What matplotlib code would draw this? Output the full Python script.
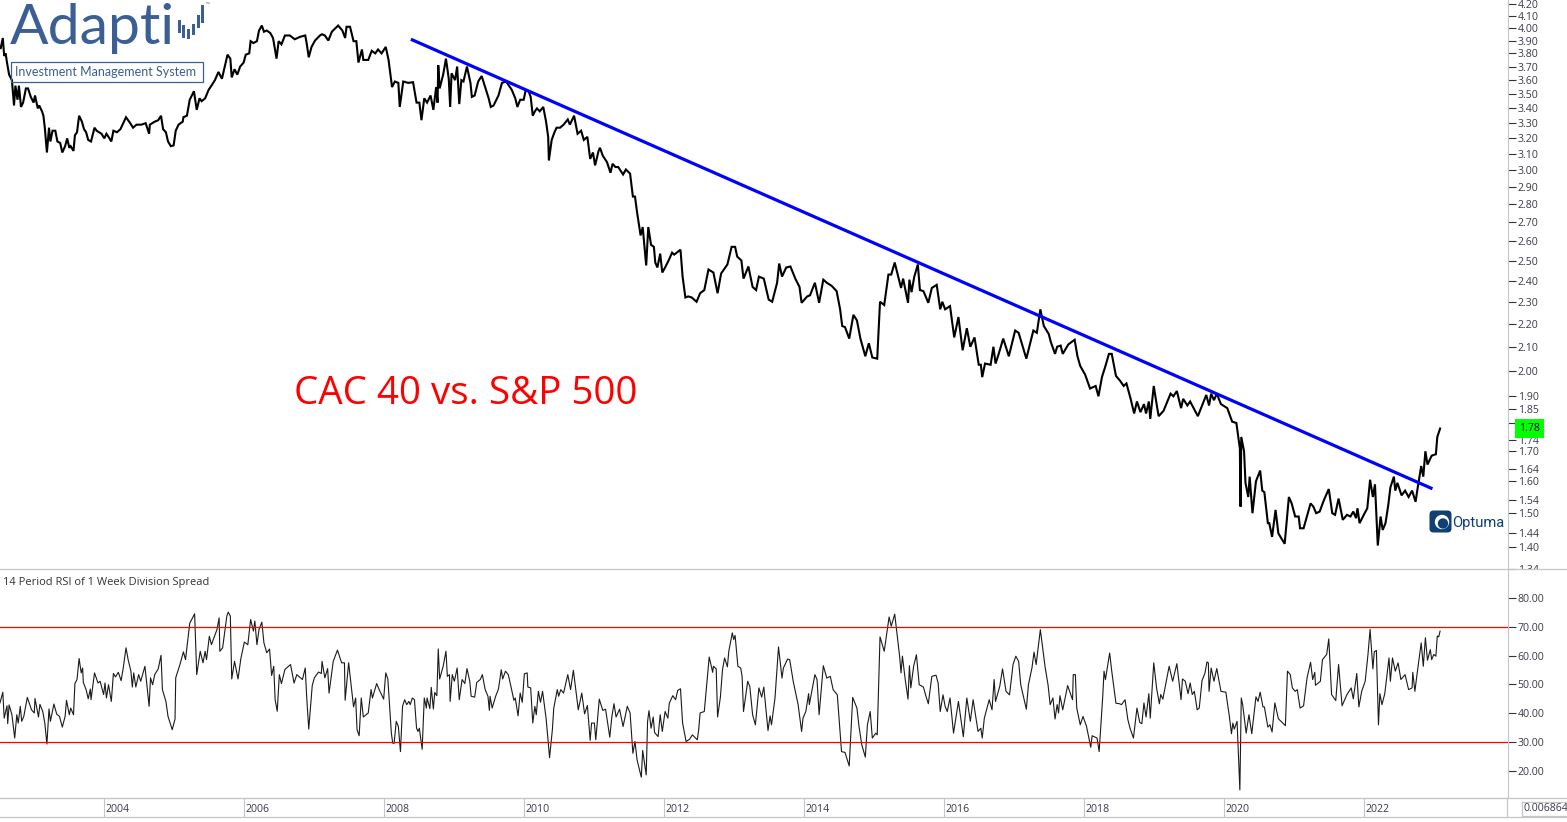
import matplotlib
matplotlib.use('Agg')
import matplotlib.pyplot as plt
from matplotlib.lines import Line2D
from matplotlib.patches import Rectangle, FancyBboxPatch, Circle
from matplotlib.transforms import ScaledTranslation, Bbox

plt.rcParams['font.family'] = ['Open Sans', 'DejaVu Sans']

# weekly spread (decimal year, ratio)
price_dates = [
    2002.52, 2002.55, 2002.57, 2002.59, 2002.61, 2002.64, 2002.68, 2002.71, 2002.73, 2002.76, 2002.78, 2002.81,
    2002.84, 2002.88, 2002.91, 2002.95, 2002.99, 2003.01, 2003.05, 2003.07, 2003.11, 2003.13, 2003.15, 2003.18,
    2003.21, 2003.23, 2003.26, 2003.30, 2003.33, 2003.37, 2003.40, 2003.44, 2003.47, 2003.50, 2003.52, 2003.56,
    2003.58, 2003.61, 2003.64, 2003.68, 2003.71, 2003.74, 2003.77, 2003.81, 2003.86, 2003.89, 2003.96, 2004.00,
    2004.03, 2004.06, 2004.10, 2004.13, 2004.18, 2004.23, 2004.31, 2004.37, 2004.41, 2004.46, 2004.53, 2004.59,
    2004.64, 2004.65, 2004.72, 2004.77, 2004.81, 2004.84, 2004.88, 2004.91, 2004.95, 2004.99, 2005.02, 2005.06,
    2005.12, 2005.13, 2005.18, 2005.22, 2005.28, 2005.32, 2005.36, 2005.39, 2005.44, 2005.49, 2005.53, 2005.58,
    2005.63, 2005.68, 2005.72, 2005.76, 2005.80, 2005.82, 2005.86, 2005.90, 2005.94, 2005.99, 2006.02, 2006.07,
    2006.09, 2006.13, 2006.18, 2006.21, 2006.25, 2006.28, 2006.32, 2006.37, 2006.41, 2006.46, 2006.49, 2006.53,
    2006.58, 2006.65, 2006.72, 2006.80, 2006.87, 2006.89, 2006.92, 2006.96, 2007.01, 2007.08, 2007.11, 2007.15,
    2007.20, 2007.25, 2007.34, 2007.40, 2007.44, 2007.46, 2007.51, 2007.56, 2007.60, 2007.63, 2007.68, 2007.70,
    2007.77, 2007.82, 2007.87, 2007.91, 2007.96, 2008.02, 2008.06, 2008.11, 2008.15, 2008.20, 2008.22, 2008.27,
    2008.34, 2008.41, 2008.46, 2008.50, 2008.53, 2008.57, 2008.61, 2008.66, 2008.70, 2008.74,
    2008.76, 2008.77, 2008.79, 2008.84, 2008.88, 2008.92, 2008.94, 2008.96, 2009.01, 2009.04, 2009.07, 2009.10,
    2009.13, 2009.18, 2009.23, 2009.25, 2009.29, 2009.34, 2009.39, 2009.44, 2009.49, 2009.52, 2009.56, 2009.63,
    2009.68, 2009.74, 2009.82, 2009.87, 2009.90, 2009.94, 2009.99, 2010.02, 2010.06, 2010.09, 2010.12, 2010.15,
    2010.18, 2010.22, 2010.27, 2010.31, 2010.34, 2010.35, 2010.39, 2010.43, 2010.46, 2010.51, 2010.56, 2010.62,
    2010.65, 2010.71, 2010.76, 2010.81, 2010.85, 2010.90, 2010.94, 2010.98, 2011.01, 2011.06, 2011.08, 2011.12,
    2011.18, 2011.23, 2011.26, 2011.30, 2011.34, 2011.41, 2011.45, 2011.51, 2011.55, 2011.58, 2011.61, 2011.66,
    2011.69, 2011.74, 2011.77, 2011.81, 2011.85, 2011.87, 2011.90, 2011.94, 2011.97, 2012.01, 2012.06, 2012.11,
    2012.14, 2012.23, 2012.26, 2012.30, 2012.34, 2012.39, 2012.46, 2012.51, 2012.57, 2012.63, 2012.70, 2012.76,
    2012.81, 2012.87, 2012.90, 2012.96, 2013.01, 2013.04, 2013.10, 2013.13, 2013.20, 2013.26, 2013.31, 2013.35,
    2013.42, 2013.49, 2013.54, 2013.61, 2013.64, 2013.68, 2013.74, 2013.80, 2013.87, 2013.93, 2013.96, 2014.04,
    2014.08, 2014.15, 2014.21, 2014.27, 2014.32, 2014.39, 2014.46, 2014.51, 2014.54, 2014.58, 2014.64, 2014.70,
    2014.75, 2014.80,
    2014.87, 2014.92, 2014.97, 2015.04, 2015.08, 2015.14, 2015.20, 2015.24, 2015.29, 2015.35, 2015.38, 2015.41,
    2015.48, 2015.50, 2015.53, 2015.57, 2015.62, 2015.65, 2015.70, 2015.77, 2015.82, 2015.89, 2015.94, 2015.97,
    2016.01, 2016.08, 2016.14, 2016.20, 2016.26, 2016.32, 2016.37, 2016.43, 2016.49, 2016.52, 2016.54, 2016.58,
    2016.66, 2016.70, 2016.73, 2016.77, 2016.84, 2016.92, 2017.01, 2017.06, 2017.17, 2017.27, 2017.32, 2017.37,
    2017.42, 2017.49, 2017.52, 2017.58, 2017.61, 2017.66, 2017.69, 2017.77, 2017.86, 2017.90, 2017.94, 2018.01,
    2018.08, 2018.16, 2018.20, 2018.25, 2018.30, 2018.35, 2018.39, 2018.45, 2018.51, 2018.56, 2018.60, 2018.66,
    2018.71, 2018.75, 2018.80, 2018.85, 2018.88, 2018.92, 2018.94, 2018.99, 2019.04, 2019.06, 2019.13, 2019.23,
    2019.27, 2019.32, 2019.38, 2019.41, 2019.47, 2019.51, 2019.56, 2019.62, 2019.68, 2019.74, 2019.78, 2019.81,
    2019.85, 2019.89, 2019.95, 2020.04, 2020.11, 2020.17, 2020.22,
    2020.23, 2020.24, 2020.28, 2020.30, 2020.34, 2020.36, 2020.40, 2020.45, 2020.51, 2020.54, 2020.57, 2020.62,
    2020.64, 2020.68, 2020.73, 2020.77, 2020.86, 2020.92, 2020.96, 2021.01, 2021.06, 2021.08, 2021.13, 2021.23,
    2021.27, 2021.31, 2021.36, 2021.42, 2021.49, 2021.54, 2021.58, 2021.63, 2021.69, 2021.75, 2021.80, 2021.84,
    2021.88, 2021.90, 2021.93, 2021.99, 2022.04, 2022.08, 2022.12, 2022.15, 2022.19, 2022.23, 2022.26, 2022.30,
    2022.34, 2022.37, 2022.42, 2022.44, 2022.47, 2022.53, 2022.58, 2022.63, 2022.68, 2022.73, 2022.75, 2022.81,
    2022.84, 2022.87, 2022.90, 2022.96, 2023.02, 2023.04, 2023.08,
]
price_values = [
    3.84, 3.92, 3.78, 3.80, 3.73, 3.64, 3.60, 3.42, 3.56, 3.46, 3.56, 3.41,
    3.44, 3.54, 3.54, 3.48, 3.44, 3.49, 3.40, 3.42, 3.38, 3.35, 3.27, 3.11,
    3.27, 3.18, 3.25, 3.25, 3.18, 3.17, 3.11, 3.15, 3.20, 3.14, 3.15, 3.12,
    3.22, 3.24, 3.35, 3.31, 3.26, 3.24, 3.19, 3.18, 3.27, 3.25, 3.23, 3.20,
    3.23, 3.21, 3.18, 3.25, 3.24, 3.26, 3.34, 3.30, 3.27, 3.29, 3.29, 3.30,
    3.23, 3.29, 3.31, 3.32, 3.35, 3.26, 3.24, 3.18, 3.15, 3.155, 3.25, 3.29,
    3.31, 3.34, 3.35, 3.46, 3.52, 3.39, 3.47, 3.45, 3.47, 3.53, 3.56, 3.60,
    3.66, 3.61, 3.70, 3.79, 3.76, 3.62, 3.68, 3.64, 3.70, 3.73, 3.79, 3.80,
    3.895, 3.88, 3.895, 3.98, 4.02, 3.97, 3.98, 3.96, 3.92, 3.76, 3.895, 3.87,
    3.94, 3.94, 3.91, 3.93, 3.94, 3.88, 3.77, 3.85, 3.90, 3.94, 3.95, 3.94,
    3.90, 3.97, 4.02, 3.98, 3.92, 4.01, 4.01, 3.895, 3.895, 3.73, 3.83, 3.75,
    3.75, 3.82, 3.80, 3.83, 3.80, 3.85, 3.75, 3.55, 3.59, 3.58, 3.41, 3.59,
    3.58, 3.585, 3.44, 3.44, 3.32, 3.47, 3.44, 3.49, 3.39, 3.55,
    3.44, 3.71, 3.54, 3.64, 3.76, 3.61, 3.41, 3.65, 3.60, 3.70, 3.43, 3.60,
    3.59, 3.70, 3.58, 3.48, 3.49, 3.59, 3.63, 3.55, 3.47, 3.41, 3.42, 3.49,
    3.58, 3.59, 3.53, 3.47, 3.41, 3.46, 3.46, 3.53, 3.52, 3.48, 3.35, 3.38,
    3.40, 3.38, 3.41, 3.31, 3.21, 3.06, 3.19, 3.24, 3.27, 3.27, 3.29, 3.325,
    3.29, 3.35, 3.23, 3.25, 3.19, 3.21, 3.07, 3.11, 3.03, 3.12, 3.14, 3.09,
    3.05, 2.985, 3.04, 3.02, 3.02, 2.975, 3.005, 2.98, 2.845, 2.845, 2.755, 2.63,
    2.675, 2.475, 2.675, 2.58, 2.57, 2.49, 2.465, 2.535, 2.44, 2.465, 2.50, 2.54,
    2.53, 2.555, 2.42, 2.32, 2.325, 2.32, 2.30, 2.34, 2.355, 2.455, 2.44, 2.34,
    2.435, 2.465, 2.48, 2.57, 2.57, 2.52, 2.50, 2.41, 2.47, 2.37, 2.355, 2.42,
    2.41, 2.31, 2.30, 2.39, 2.485, 2.42, 2.465, 2.47, 2.41, 2.37, 2.295, 2.325,
    2.33, 2.39, 2.295, 2.405, 2.39, 2.375, 2.35, 2.265, 2.19, 2.185, 2.135, 2.24,
    2.215, 2.135,
    2.06, 2.115, 2.055, 2.05, 2.30, 2.285, 2.43, 2.43, 2.49, 2.405, 2.365, 2.41,
    2.295, 2.405, 2.345, 2.42, 2.48, 2.355, 2.35, 2.295, 2.365, 2.38, 2.265, 2.30,
    2.265, 2.28, 2.14, 2.23, 2.085, 2.18, 2.10, 2.14, 2.025, 2.025, 1.975, 2.03,
    2.025, 2.10, 2.03, 2.065, 2.135, 2.06, 2.17, 2.16, 2.05, 2.17, 2.16, 2.265,
    2.19, 2.155, 2.12, 2.07, 2.10, 2.105, 2.07, 2.11, 2.13, 2.06, 2.02, 1.985,
    1.93, 1.94, 1.90, 1.975, 2.02, 2.07, 2.07, 1.98, 1.96, 1.94, 1.95, 1.89,
    1.835, 1.88, 1.84, 1.87, 1.835, 1.88, 1.815, 1.94, 1.855, 1.825, 1.845, 1.91,
    1.90, 1.92, 1.855, 1.89, 1.865, 1.88, 1.855, 1.825, 1.865, 1.905, 1.865, 1.91,
    1.885, 1.91, 1.87, 1.855, 1.805, 1.80, 1.71,
    1.52, 1.75, 1.70, 1.595, 1.55, 1.615, 1.50, 1.60, 1.635, 1.57, 1.565, 1.47,
    1.47, 1.43, 1.51, 1.44, 1.41, 1.55, 1.53, 1.49, 1.49, 1.455, 1.455, 1.53,
    1.52, 1.50, 1.505, 1.54, 1.575, 1.50, 1.495, 1.545, 1.48, 1.495, 1.49, 1.505,
    1.485, 1.515, 1.47, 1.495, 1.515, 1.605, 1.55, 1.59, 1.405, 1.49, 1.45, 1.47,
    1.525, 1.58, 1.615, 1.57, 1.595, 1.555, 1.57, 1.55, 1.57, 1.535, 1.565, 1.65,
    1.615, 1.70, 1.655, 1.685, 1.69, 1.75, 1.78,
]

# 14 period RSI of the spread
rsi_dates = [
    2002.51, 2002.55, 2002.57, 2002.61, 2002.62, 2002.64, 2002.68, 2002.72, 2002.75, 2002.77, 2002.80, 2002.82,
    2002.85, 2002.90, 2002.96, 2003.00, 2003.01, 2003.06, 2003.08, 2003.12, 2003.15, 2003.18, 2003.21, 2003.23,
    2003.28, 2003.32, 2003.36, 2003.40, 2003.44, 2003.46, 2003.50, 2003.52, 2003.56, 2003.58, 2003.61, 2003.64,
    2003.67, 2003.69, 2003.70, 2003.74, 2003.77, 2003.80, 2003.81, 2003.86, 2003.91, 2003.94, 2003.99, 2004.01,
    2004.03, 2004.06, 2004.10, 2004.13, 2004.16, 2004.20, 2004.24, 2004.27, 2004.31, 2004.34, 2004.38, 2004.40,
    2004.42, 2004.45, 2004.49, 2004.52, 2004.58, 2004.64, 2004.66, 2004.69, 2004.72, 2004.77, 2004.81, 2004.83,
    2004.88, 2004.91, 2004.97, 2005.01, 2005.02, 2005.08, 2005.13, 2005.16, 2005.22, 2005.29, 2005.32, 2005.37,
    2005.41, 2005.44, 2005.46, 2005.50, 2005.53, 2005.61, 2005.64, 2005.65, 2005.69, 2005.75, 2005.77, 2005.80,
    2005.82, 2005.86, 2005.91, 2005.95, 2006.00, 2006.05, 2006.09, 2006.13, 2006.15, 2006.18, 2006.21, 2006.25,
    2006.28, 2006.32, 2006.36, 2006.39, 2006.42, 2006.44, 2006.47, 2006.50, 2006.53, 2006.58, 2006.66, 2006.71,
    2006.75, 2006.83, 2006.87, 2006.89, 2006.92, 2006.97, 2007.00, 2007.06, 2007.10, 2007.11, 2007.15, 2007.19,
    2007.21, 2007.27, 2007.33, 2007.39, 2007.43, 2007.44, 2007.49, 2007.56, 2007.59, 2007.61, 2007.64, 2007.67,
    2007.70, 2007.77, 2007.81, 2007.83, 2007.89, 2007.93,
    2007.99, 2008.02, 2008.05, 2008.10, 2008.12, 2008.14, 2008.17, 2008.20, 2008.23, 2008.26, 2008.29, 2008.32,
    2008.35, 2008.37, 2008.40, 2008.43, 2008.46, 2008.48, 2008.50, 2008.54, 2008.57, 2008.60, 2008.61, 2008.65,
    2008.67, 2008.70, 2008.72, 2008.75, 2008.77, 2008.79, 2008.84, 2008.88, 2008.90, 2008.93, 2008.94, 2008.97,
    2009.00, 2009.04, 2009.07, 2009.11, 2009.15, 2009.18, 2009.22, 2009.24, 2009.29, 2009.32, 2009.37, 2009.40,
    2009.44, 2009.48, 2009.50, 2009.51, 2009.54, 2009.59, 2009.63, 2009.67, 2009.69, 2009.73, 2009.77, 2009.81,
    2009.85, 2009.87, 2009.91, 2009.94, 2009.97, 2010.00, 2010.04, 2010.05, 2010.09, 2010.12, 2010.15, 2010.17,
    2010.20, 2010.23, 2010.26, 2010.31, 2010.36, 2010.40, 2010.42, 2010.47, 2010.49, 2010.52, 2010.56, 2010.62,
    2010.66, 2010.70, 2010.74, 2010.77, 2010.82, 2010.86, 2010.90, 2010.94, 2010.96, 2011.00, 2011.02, 2011.07,
    2011.12, 2011.16, 2011.22, 2011.25, 2011.28, 2011.31, 2011.36, 2011.41, 2011.47, 2011.51, 2011.55, 2011.58,
    2011.61, 2011.67, 2011.69, 2011.74, 2011.76, 2011.78, 2011.81, 2011.84, 2011.86, 2011.91, 2011.94, 2011.97,
    2012.01, 2012.05, 2012.07, 2012.12, 2012.16, 2012.19, 2012.23, 2012.26, 2012.31, 2012.36, 2012.40, 2012.47,
    2012.49, 2012.51, 2012.57, 2012.64, 2012.69, 2012.70, 2012.74, 2012.76, 2012.80, 2012.83, 2012.86, 2012.90,
    2012.92, 2012.97, 2012.99, 2013.01, 2013.05, 2013.09, 2013.11, 2013.13, 2013.19,
    2013.22, 2013.26, 2013.30, 2013.35, 2013.39, 2013.42, 2013.48, 2013.51, 2013.53, 2013.58, 2013.63, 2013.68,
    2013.70, 2013.76, 2013.79, 2013.84, 2013.91, 2013.96, 2013.98, 2014.02, 2014.06, 2014.07, 2014.15, 2014.18,
    2014.21, 2014.27, 2014.32, 2014.37, 2014.41, 2014.47, 2014.53, 2014.58, 2014.64, 2014.69, 2014.75, 2014.78,
    2014.82, 2014.87, 2014.90, 2014.94, 2014.97, 2015.02, 2015.04, 2015.08, 2015.14, 2015.21, 2015.24, 2015.29,
    2015.36, 2015.38, 2015.40, 2015.44, 2015.48, 2015.50, 2015.52, 2015.56, 2015.60, 2015.64, 2015.70, 2015.73,
    2015.77, 2015.82, 2015.88, 2015.91, 2015.94, 2015.98, 2016.01, 2016.04, 2016.08, 2016.13, 2016.20, 2016.27,
    2016.32, 2016.37, 2016.41, 2016.48, 2016.52, 2016.54, 2016.57, 2016.64, 2016.68, 2016.71, 2016.73, 2016.79,
    2016.83, 2016.88, 2016.93, 2016.98, 2017.02, 2017.06, 2017.09, 2017.17, 2017.20, 2017.25, 2017.28, 2017.31,
    2017.37, 2017.44, 2017.48, 2017.51, 2017.55, 2017.58, 2017.61, 2017.63, 2017.65, 2017.69, 2017.76, 2017.83,
    2017.84, 2017.87, 2017.89, 2017.94, 2017.98, 2018.03, 2018.09, 2018.11, 2018.18, 2018.21, 2018.26, 2018.28,
    2018.30, 2018.36, 2018.39, 2018.45, 2018.50,
    2018.53, 2018.58, 2018.62, 2018.65, 2018.70, 2018.75, 2018.79, 2018.82, 2018.85, 2018.88, 2018.92, 2018.94,
    2018.99, 2019.03, 2019.07, 2019.09, 2019.12, 2019.21, 2019.26, 2019.32, 2019.38, 2019.40, 2019.44, 2019.48,
    2019.51, 2019.54, 2019.57, 2019.61, 2019.64, 2019.68, 2019.72, 2019.75, 2019.77, 2019.78, 2019.81, 2019.85,
    2019.89, 2019.95, 2020.02, 2020.07, 2020.10, 2020.12, 2020.14, 2020.18, 2020.22, 2020.24, 2020.26, 2020.31,
    2020.35, 2020.39, 2020.45, 2020.48, 2020.51, 2020.55, 2020.57, 2020.62, 2020.65, 2020.68, 2020.72, 2020.77,
    2020.87, 2020.90, 2020.94, 2020.97, 2021.01, 2021.04, 2021.08, 2021.13, 2021.18, 2021.23, 2021.26, 2021.29,
    2021.30, 2021.37, 2021.40, 2021.46, 2021.49, 2021.53, 2021.59, 2021.63, 2021.68, 2021.75, 2021.81, 2021.84,
    2021.89, 2021.92, 2021.96, 2022.01, 2022.05, 2022.08, 2022.12, 2022.14, 2022.17, 2022.20, 2022.22, 2022.25,
    2022.29, 2022.35, 2022.37, 2022.40, 2022.44, 2022.48, 2022.52, 2022.58, 2022.63, 2022.68, 2022.69, 2022.72,
    2022.75, 2022.81, 2022.84, 2022.87, 2022.90, 2022.94, 2022.96, 2022.99, 2023.02, 2023.04, 2023.06, 2023.08,
]
rsi_values = [
    43.6, 47.3, 38.3, 42.6, 36.4, 42.9, 39.5, 31.4, 39.5, 36.6, 42.4, 37.2,
    38.9, 45.5, 41.2, 40.1, 45.1, 38.7, 43.1, 40.7, 36.6, 29.3, 41.5, 37.2,
    43.2, 39.7, 38.9, 35.2, 38.9, 44.5, 39.5, 41.8, 39.5, 50.3, 51.7, 59.0,
    54.0, 55.7, 50.7, 48.2, 45.0, 48.4, 44.7, 54.0, 50.5, 51.1, 46.5, 50.5,
    45.3, 49.9, 44.1, 53.8, 52.6, 54.2, 51.3, 55.7, 62.7, 58.6, 54.6, 49.1,
    54.0, 49.1, 53.4, 51.1, 56.3, 42.4, 52.3, 49.9, 53.4, 55.4, 60.1, 48.2,
    44.1, 38.9, 34.3, 38.0, 52.3, 56.9, 61.3, 58.6, 71.2, 74.5, 53.4, 61.5,
    57.5, 61.5, 58.6, 66.7, 63.8, 69.1, 73.1, 61.5, 62.7, 73.7, 75.1, 73.7,
    51.9, 58.0, 51.9, 58.9, 64.7, 63.8, 72.5, 68.5, 72.0, 63.8, 69.1, 71.6,
    64.4, 61.0, 62.3, 53.1, 56.3, 44.7, 40.7, 53.4, 50.3, 55.2, 56.9, 50.5,
    53.4, 51.7, 55.7, 45.9, 34.5, 49.6, 52.3, 54.3, 53.8, 58.0, 52.3, 55.5,
    47.0, 58.0, 61.9, 57.5, 57.5, 44.5, 57.5, 42.2, 45.3, 34.3, 32.2, 45.3,
    38.7, 40.1, 48.2, 45.3, 50.3, 48.0,
    44.9, 54.0, 51.9, 33.1, 29.6, 29.6, 37.2, 35.4, 26.7, 42.4, 44.7, 43.0,
    44.1, 43.0, 45.3, 44.7, 34.8, 33.7, 34.8, 27.5, 45.3, 41.8, 45.3, 41.6,
    49.0, 41.5, 47.2, 46.1, 62.3, 51.9, 56.3, 61.5, 52.8, 53.4, 44.1, 53.4,
    51.1, 55.7, 44.7, 51.7, 50.3, 55.5, 51.1, 45.9, 45.6, 50.7, 51.7, 53.4,
    48.2, 45.9, 41.0, 45.9, 41.8, 45.9, 48.4, 55.1, 51.9, 54.6, 53.4, 49.1,
    44.5, 45.3, 39.1, 47.0, 43.8, 53.7, 54.0, 49.1, 48.8, 36.6, 42.4, 39.5,
    47.6, 43.8, 47.6, 38.3, 24.6, 34.3, 41.8, 48.2, 45.9, 48.2, 47.0, 53.4,
    48.2, 54.9, 47.0, 41.2, 47.0, 39.8, 42.7, 30.6, 36.6, 36.6, 30.8, 44.9,
    41.0, 41.4, 31.7, 38.9, 43.3, 38.7, 41.4, 35.4, 42.4, 40.1, 26.1, 30.2,
    23.8, 17.8, 27.1, 18.6, 37.2, 40.9, 34.8, 38.7, 33.3, 31.9, 39.5, 33.7,
    40.6, 38.3, 43.5, 46.1, 44.7, 47.9, 48.5, 36.6, 30.2, 31.0, 32.5, 30.8,
    34.3, 40.1, 40.6, 59.5, 54.2, 56.3, 55.4, 38.7, 45.6, 55.1, 59.2, 56.1,
    61.5, 67.9, 65.6, 67.0, 56.3, 55.7, 52.8, 40.6, 51.1,
    49.3, 39.5, 36.0, 48.8, 45.6, 49.1, 34.0, 39.1, 36.0, 45.3, 63.0, 52.2,
    55.7, 58.8, 58.6, 51.1, 43.0, 33.7, 38.3, 40.6, 46.8, 43.0, 53.4, 51.7,
    39.5, 56.5, 52.2, 52.8, 48.2, 46.4, 26.7, 26.4, 21.7, 45.5, 41.8, 35.4,
    29.0, 24.8, 36.0, 40.6, 31.4, 33.1, 32.5, 66.5, 61.5, 73.4, 70.2, 74.4,
    59.8, 54.0, 59.8, 51.7, 44.9, 56.5, 48.8, 56.3, 60.3, 49.9, 49.1, 46.4,
    43.3, 52.8, 53.2, 50.5, 40.6, 46.4, 42.4, 40.6, 45.3, 33.1, 44.1, 31.9,
    45.3, 37.2, 44.7, 33.7, 34.8, 31.4, 38.3, 44.7, 41.2, 51.7, 44.1, 49.3,
    55.4, 47.6, 46.4, 56.9, 59.8, 58.0, 49.9, 41.4, 49.9, 55.7, 61.2, 56.9,
    69.0, 55.7, 49.9, 43.0, 45.3, 38.0, 43.0, 40.1, 46.1, 41.2, 49.6, 44.7,
    53.4, 53.4, 41.8, 36.0, 38.9, 35.4, 28.2, 32.2, 31.4, 26.7, 45.3, 54.6,
    51.7, 60.9, 54.6, 43.5, 43.3,
    43.0, 44.7, 37.8, 34.9, 31.4, 41.8, 36.8, 36.4, 43.6, 38.7, 46.8, 38.3,
    57.5, 48.8, 43.3, 46.5, 44.9, 56.3, 51.1, 57.2, 44.7, 51.9, 51.1, 46.8,
    50.5, 46.5, 47.6, 41.2, 41.8, 51.4, 53.8, 57.8, 57.5, 47.6, 55.7, 51.1,
    55.5, 47.6, 47.3, 38.9, 32.9, 36.6, 34.5, 37.2, 13.4, 45.3, 43.0, 33.1,
    39.5, 32.9, 45.7, 44.1, 47.3, 42.2, 42.2, 35.2, 36.0, 33.5, 43.6, 38.1,
    35.7, 54.6, 53.4, 48.8, 47.6, 48.2, 41.8, 42.6, 52.3, 57.7, 51.7, 54.2,
    49.7, 51.1, 58.6, 60.4, 65.8, 46.5, 44.4, 56.9, 42.6, 46.5, 48.8, 45.0,
    53.8, 42.2, 47.6, 51.1, 60.4, 69.1, 55.4, 61.3, 61.8, 36.0, 46.8, 43.0,
    46.8, 59.2, 51.1, 59.2, 54.6, 57.5, 51.7, 53.4, 48.2, 48.8, 54.2, 47.6,
    53.4, 64.4, 56.3, 66.2, 58.4, 62.1, 58.6, 60.4, 59.8, 66.8, 66.5, 68.5,
]

# trendline end points
trend_dates = [2008.40, 2022.95]
trend_values = [3.905, 1.578]

price_ticks = [4.2, 4.1, 4.0, 3.9, 3.8, 3.7, 3.6, 3.5, 3.4, 3.3, 3.2, 3.1, 3.0, 2.9, 2.8, 2.7, 2.6, 2.5, 2.4,
               2.3, 2.2, 2.1, 2.0, 1.9, 1.85, 1.8, 1.74, 1.7, 1.64, 1.6, 1.54, 1.5, 1.44, 1.4, 1.34]
rsi_ticks = [20, 30, 40, 50, 60, 70, 80]
rsi_levels = [30, 70]
year_ticks = [2004, 2006, 2008, 2010, 2012, 2014, 2016, 2018, 2020, 2022]

W, H = 1567, 822
GREY = '#c6c6c6'
LABEL = '#3a3a48'
LOGO = '#3b5f94'
OPTUMA = '#0f3f75'

fig = plt.figure(figsize=(W / 100, H / 100), dpi=100, facecolor='white')

# main panel
ax = fig.add_axes([0, 1 - 569 / H, 1508 / W, 569 / H])
ax.set_yscale('log')
ax.plot(price_dates, price_values, color='black', lw=1.5, solid_joinstyle='miter')
ax.plot(trend_dates, trend_values, color='#0000ff', lw=2.3)
ax.set_xlim(2002.51, 2024.05)
ax.set_ylim(1.3406, 4.233)
ax.set_xticks([])
ax.yaxis.tick_right()
ax.set_yticks(price_ticks, labels=['' if t == 1.8 else f'{t:.2f}' for t in price_ticks])
ax.minorticks_off()
ax.tick_params(axis='y', length=6, width=0.8, color='#333333', labelsize=7.6, labelcolor=LABEL, pad=1)
for s in ['top', 'left', 'bottom']:
    ax.spines[s].set_visible(False)
ax.spines['right'].set_color(GREY)

# 1.34 gets cut by the panel edge, 4.20 by the top of the image
panel_box = Bbox.from_extents(1500, H - 569, W, H)
for lab in ax.get_yticklabels():
    lab.set_clip_box(panel_box)
    lab.set_clip_on(True)

ax.text(1.0073, 1.78, '1.78', transform=ax.get_yaxis_transform(), ha='left', va='center', fontsize=7.6, color='black',
        bbox=dict(facecolor='#00ff00', edgecolor='none', pad=3.2), zorder=5)

# RSI panel
ax2 = fig.add_axes([0, (H - 798) / H, 1508 / W, 228 / H])
ax2.plot(rsi_dates, rsi_values, color='#1a1a1a', lw=0.8)
for lv in rsi_levels:
    ax2.axhline(lv, color='#ff0000', lw=0.9)
ax2.set_xlim(2002.51, 2024.05)
ax2.set_ylim(10.6, 89.7)
ax2.yaxis.tick_right()
ax2.set_yticks(rsi_ticks, labels=[f'{t:.2f}' for t in rsi_ticks])
ax2.tick_params(axis='y', length=6, width=0.8, color='#333333', labelsize=7.6, labelcolor=LABEL, pad=1)
ax2.set_xticks(year_ticks, labels=[str(y) for y in year_ticks])
ax2.tick_params(axis='x', length=13.5, width=0.8, color=GREY, labelsize=7.6, labelcolor=LABEL, pad=-9)
shift = ScaledTranslation(0.01, 0, fig.dpi_scale_trans)
for lab in ax2.get_xticklabels():
    lab.set_ha('left')
    lab.set_transform(lab.get_transform() + shift)
for s in ['top', 'left']:
    ax2.spines[s].set_visible(False)
ax2.spines['right'].set_color(GREY)
ax2.spines['bottom'].set_color(GREY)
ax2.text(3 / 1508, 1 - 13 / 228, '14 Period RSI of 1 Week Division Spread', transform=ax2.transAxes,
         ha='left', va='center', fontsize=8.0, color='#333333')

# overlay in image pixels for the logos and the frame around the panels
over = fig.add_axes([0, 0, 1, 1], zorder=10)
over.set_xlim(0, W)
over.set_ylim(H, 0)
over.axis('off')
over.patch.set_alpha(0)

over.add_line(Line2D([0, W], [569, 569], color=GREY, lw=0.9))
over.add_line(Line2D([0, W], [798, 798], color=GREY, lw=0.9))
over.add_line(Line2D([0, W], [817, 817], color=GREY, lw=0.9))
over.add_line(Line2D([1506.5, 1506.5], [798, 817], color=GREY, lw=0.9))
over.add_line(Line2D([1521.5, 1567], [801.5, 801.5], color=GREY, lw=0.9))
over.add_line(Line2D([1521.5, 1567], [815.5, 815.5], color=GREY, lw=0.9))
over.add_line(Line2D([1521.5, 1521.5], [801.5, 815.5], color=GREY, lw=0.9))
over.text(1524, 808.5, '0.006864', ha='left', va='center', fontsize=7.6, color=LABEL, clip_on=True)

over.text(293.5, 404, 'CAC 40 vs. S&P 500', color='#ff0000', fontsize=27.75, ha='left', va='baseline')

# Adaptiv logo
over.text(10, 44, 'Adapti', color=LOGO, fontsize=41, family='Lato', weight='normal', ha='left', va='baseline')
bar_x = [177.5, 182, 187, 192, 196.5, 201]
bar_top = [20, 25, 29, 24, 15, 5]
bar_bottom = [33, 38, 39, 35, 28, 23]
for bx, bt, bb in zip(bar_x, bar_top, bar_bottom):
    over.add_patch(Rectangle((bx, bt), 3.4, bb - bt, color=LOGO, lw=0))
over.text(206, 5, '™', color=LOGO, fontsize=3.5, ha='left', va='center')
over.add_patch(Rectangle((10.7, 62.3), 192, 19.4, fill=False, edgecolor=LOGO, lw=0.9))
over.text(15, 72, 'Investment Management System', color=LOGO, fontsize=9.0, family='Lato', weight='normal',
          ha='left', va='center')

# Optuma logo
over.add_patch(FancyBboxPatch((1432, 513), 17, 17, boxstyle='round,pad=2.5,rounding_size=4', color=OPTUMA, lw=0))
over.add_patch(Circle((1442, 522), 7.2, color='white', lw=0))
over.add_patch(Circle((1443, 523.5), 5.2, color=OPTUMA, lw=0))
over.text(1452, 522.5, 'Optuma', color=OPTUMA, fontsize=10.6, family='Roboto', ha='left', va='center')

fig.savefig('out.png', dpi=100)
